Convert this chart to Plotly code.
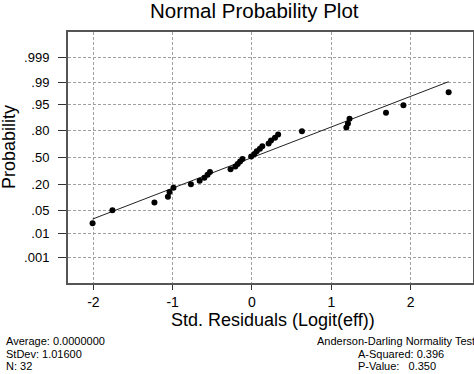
import plotly.graph_objects as go
from statistics import NormalDist

# ---- data ----
residuals = [-2.01, -1.76, -1.23, -1.06, -1.04, -0.99, -0.77, -0.66,
             -0.60, -0.56, -0.53, -0.27, -0.21, -0.18, -0.15, -0.12,
             -0.01, 0.03, 0.06, 0.10, 0.13, 0.21, 0.24, 0.29,
             0.33, 0.63, 1.19, 1.21, 1.23, 1.69, 1.91, 2.48]
probabilities = [0.0216, 0.0525, 0.0833, 0.1142, 0.1451, 0.1759, 0.2068, 0.2377,
                 0.2685, 0.2994, 0.3302, 0.3611, 0.3920, 0.4228, 0.4537, 0.4846,
                 0.5154, 0.5463, 0.5772, 0.6080, 0.6389, 0.6698, 0.7006, 0.7315,
                 0.7623, 0.7932, 0.8241, 0.8549, 0.8858, 0.9167, 0.9475, 0.9784]
fit_x = [-2.01, 2.48]
fit_prob = [0.029, 0.9905]
prob_ticks = [0.001, 0.01, 0.05, 0.20, 0.50, 0.80, 0.95, 0.99, 0.999]
prob_tick_labels = [".001", ".01", ".05", ".20", ".50", ".80", ".95", ".99", ".999"]
x_ticks = [-2, -1, 0, 1, 2]
stats_left = ["Average: 0.0000000", "StDev: 1.01600", "N: 32"]
stats_right = ["Anderson-Darling Normality Test", "A-Squared: 0.396", "P-Value:   0.350"]

nd = NormalDist()
z = [nd.inv_cdf(p) for p in probabilities]
fit_z = [nd.inv_cdf(p) for p in fit_prob]
tick_z = [nd.inv_cdf(p) for p in prob_ticks]

FONT = "Liberation Sans, Arial, sans-serif"
W, H = 474, 374
L, R, T, B = 68, 1, 32, 91
PW, PH = W - L - R, H - T - B


def px_x(x):
    return (x - L) / PW


def px_y(y):
    return (H - B - y) / PH


fig = go.Figure()
fig.add_trace(go.Scatter(x=fit_x, y=fit_z, mode="lines",
                         line=dict(color="#222222", width=1), hoverinfo="skip"))
fig.add_trace(go.Scatter(x=residuals, y=z, mode="markers",
                         marker=dict(color="black", size=6)))

grid = dict(showgrid=True, gridcolor="#a0a0a0", griddash="3px,2px", gridwidth=1,
            zeroline=False, showline=True, linecolor="#555555", linewidth=2,
            mirror=True, ticks="outside", tickcolor="#333333", automargin=False)

fig.update_layout(
    width=W, height=H, autosize=False,
    margin=dict(l=L, r=R, t=T, b=B),
    paper_bgcolor="white", plot_bgcolor="white",
    showlegend=False,
    font=dict(family=FONT, color="black"),
    xaxis=dict(range=[-2.32, 2.787], tickvals=x_ticks,
               ticktext=[str(v) for v in x_ticks], ticklen=5,
               tickfont=dict(size=14), **grid),
    yaxis=dict(range=[-3.87, 3.88], tickvals=tick_z, ticktext=prob_tick_labels,
               ticklen=8, tickfont=dict(size=13), ticklabelstandoff=6, **grid),
)

# title and axis titles
fig.add_annotation(text="Normal Probability Plot", xref="paper", yref="paper",
                   x=px_x(254), y=px_y(10), xanchor="center", yanchor="middle",
                   showarrow=False, font=dict(size=20.5, family=FONT))
fig.add_annotation(text="Std. Residuals (Logit(eff))", xref="paper", yref="paper",
                   x=px_x(273), y=px_y(320), xanchor="center", yanchor="middle",
                   showarrow=False, font=dict(size=18, family=FONT))
fig.add_annotation(text="Probability", xref="paper", yref="paper",
                   x=px_x(9), y=px_y(147), xanchor="center", yanchor="middle",
                   textangle=-90, showarrow=False, font=dict(size=18, family=FONT))

stat_y = [341, 354, 366]
for i, t in enumerate(stats_left):
    fig.add_annotation(text=t, xref="paper", yref="paper",
                       x=px_x(4), y=px_y(stat_y[i]),
                       xanchor="left", yanchor="middle", showarrow=False,
                       font=dict(size=11, family=FONT))
right_x = [315, 356, 356]
for i, t in enumerate(stats_right):
    fig.add_annotation(text=t, xref="paper", yref="paper",
                       x=px_x(right_x[i]), y=px_y(stat_y[i]),
                       xanchor="left", yanchor="middle", showarrow=False,
                       font=dict(size=11, family=FONT))

post = ("document.body.style.margin='0';document.body.style.padding='0';"
        "document.body.style.overflow='hidden';"
        "Plotly.relayout(document.getElementById('{plot_id}'), {width:474, height:374});")

fig.write_html("out.html", config={"responsive": False, "displayModeBar": False},
               post_script=post)
